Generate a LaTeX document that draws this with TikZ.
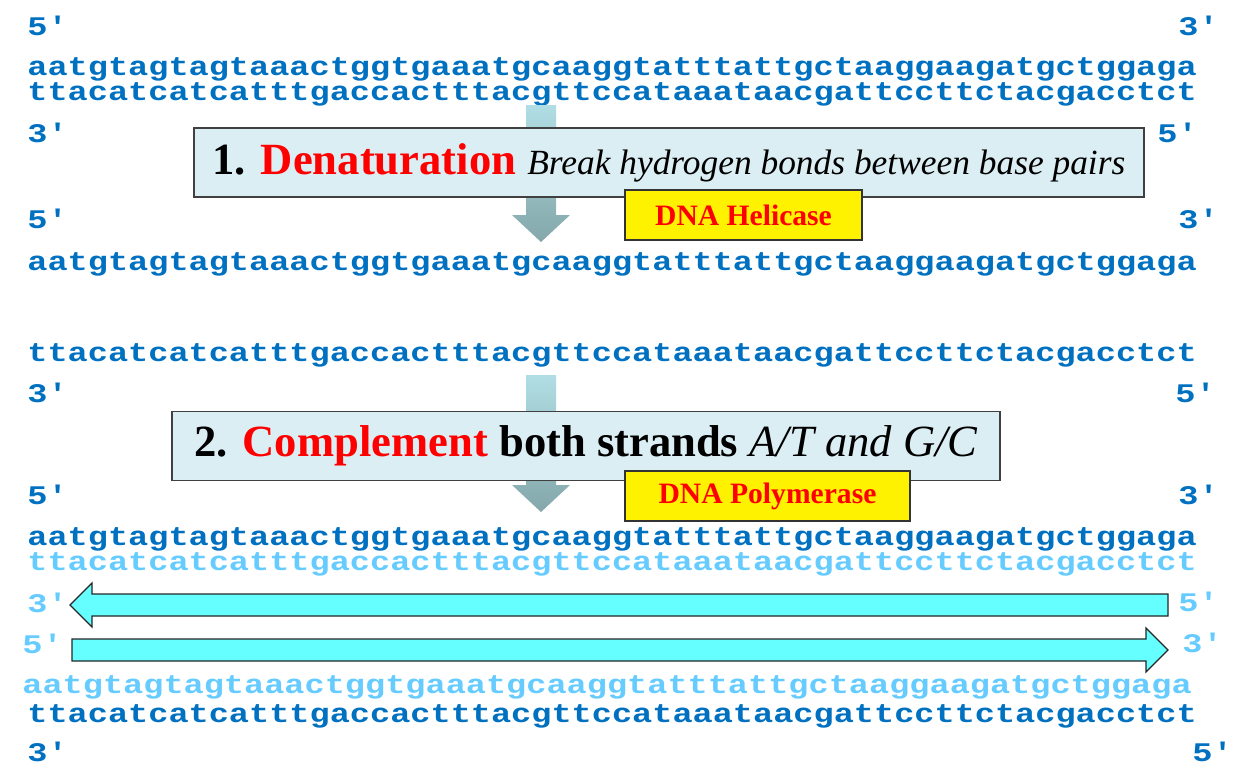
\documentclass[tikz,border=0pt]{standalone}
\usepackage{fontspec}
\setmainfont{Liberation Serif}
\setmonofont{Liberation Mono}
\usetikzlibrary{calc}

\definecolor{dnablue}{HTML}{0070C0}
\definecolor{dnalight}{HTML}{66CCFF}
\definecolor{boxfill}{HTML}{DBEEF3}
\definecolor{strandfill}{HTML}{66FFFF}
\definecolor{flowtop}{HTML}{B0DEE4}
\definecolor{flowbot}{HTML}{84A7AA}

\newcommand{\strandA}{aatgtagtagtaaactggtgaaatgcaaggtatttattgctaaggaagatgctggaga}
\newcommand{\strandB}{ttacatcatcatttgaccactttacgttccataaataacgattccttctacgacctct}
\newcommand{\dna}[1]{\scalebox{1}[0.8]{#1}}

\begin{document}
\begin{tikzpicture}[x=0.5pt,y=-0.5pt] %% one unit = one pixel of the slide
		\tikzstyle{seq}=[anchor=base west,inner sep=0pt,font=\ttfamily\bfseries\fontsize{16.8}{16.8}\selectfont]
		\tikzstyle{dark}=[text=dnablue]
		\tikzstyle{pale}=[text=dnalight]
		\tikzstyle{stepbox}=[draw=black!75,line width=0.75pt,fill=boxfill,minimum height=34.5pt,inner sep=0pt]
		\tikzstyle{enzyme}=[draw=black!80,line width=0.75pt,fill=yellow,text=red,font=\bfseries\fontsize{14.8}{14.8}\selectfont,minimum height=25pt,inner sep=0pt]
		\tikzstyle{flow}=[top color=flowtop,bottom color=flowbot]
		\tikzstyle{strand}=[draw=black!85,line width=0.6pt,fill=strandfill]
		\useasboundingbox (0,0) rectangle (1249,783);
		%% double strand
		\node[seq,dark] (top5) at (27,35) {\dna{5'}};
		\node[seq,dark] (top3) at (1178,35) {\dna{3'}};
		\node[seq,dark] (dsA) at (27,75) {\dna{\strandA}};
		\node[seq,dark] (dsB) at (27,100) {\dna{\strandB}};
		\node[seq,dark] (ds3) at (27,142) {\dna{3′}};
		\node[seq,dark] (ds5) at (1157,142) {\dna{5′}};
		%% step arrows
		\path[flow] (526,105) -- (556,105) -- (556,215) -- (570,215) -- (541,242) -- (512,215) -- (526,215) -- cycle;
		\path[flow] (526,375) -- (556,375) -- (556,485) -- (570,485) -- (541,512) -- (512,485) -- (526,485) -- cycle;
		%% step 1
		\node[stepbox,minimum width=475pt] (den) at (669,162.5)
			{{\fontsize{22.3}{22.3}\selectfont\bfseries 1. \textcolor{red}{Denaturation} }{\fontsize{17.7}{17.7}\selectfont\itshape Break hydrogen bonds between base pairs}};
		\node[enzyme,minimum width=118.5pt] (heli) at (743.5,215) {DNA Helicase};
		%% separated strands
		\node[seq,dark] (up5) at (27,228) {\dna{5'}};
		\node[seq,dark] (up3) at (1178,228) {\dna{3'}};
		\node[seq,dark] (upA) at (27,270) {\dna{\strandA}};
		\node[seq,dark] (loB) at (27,361) {\dna{\strandB}};
		\node[seq,dark] (lo3) at (27,402) {\dna{3′}};
		\node[seq,dark] (lo5) at (1175,402) {\dna{5′}};
		%% step 2
		\node[stepbox,minimum width=414pt] (comp) at (586,446)
			{\fontsize{22.3}{22.3}\selectfont\bfseries 2. \textcolor{red}{Complement} both strands \mdseries\itshape A/T and G/C};
		\node[enzyme,minimum width=142.5pt] (poly) at (767.5,496) {DNA Polymerase};
		%% new strands
		\node[seq,dark] (n5) at (27,504) {\dna{5'}};
		\node[seq,dark] (n3) at (1178,504) {\dna{3'}};
		\node[seq,dark] (nA) at (27,545) {\dna{\strandA}};
		\node[seq,pale] (nB) at (27,570) {\dna{\strandB}};
		\node[seq,pale] (nl3) at (27,612) {\dna{3′}};
		\node[seq,pale] (nr5) at (1178,611) {\dna{5′}};
		\draw[strand] (1168,594) -- (1168,616) -- (92,616) -- (92,627) -- (70,605) -- (92,583) -- (92,594) -- cycle;
		\node[seq,pale] (ml5) at (22,653) {\dna{5′}};
		\node[seq,pale] (mr3) at (1182,652) {\dna{3′}};
		\draw[strand] (72,639) -- (1146,639) -- (1146,628) -- (1168,650) -- (1146,672) -- (1146,661) -- (72,661) -- cycle;
		\node[seq,pale] (mA) at (22,693) {\dna{\strandA}};
		\node[seq,dark] (mB) at (27,722) {\dna{\strandB}};
		\node[seq,dark] (bot3) at (27,761) {\dna{3′}};
		\node[seq,dark] (bot5) at (1192,761) {\dna{5′}};
	\end{tikzpicture}
\end{document}
